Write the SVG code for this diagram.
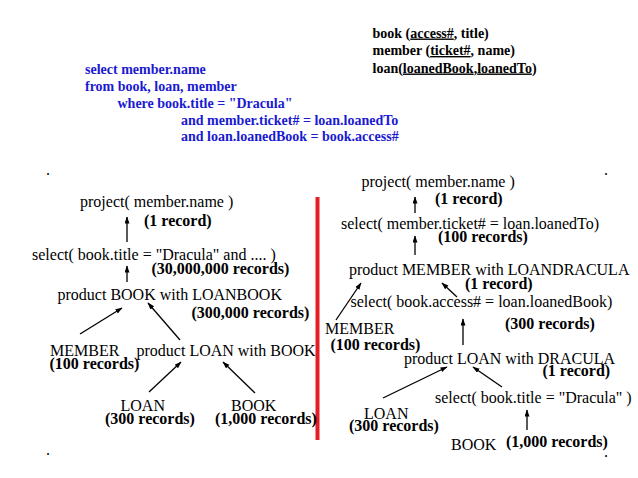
<svg xmlns="http://www.w3.org/2000/svg" width="638" height="478" viewBox="0 0 638 478">
<defs>
<style>
text{font-family:"Liberation Serif","Times New Roman",serif;fill:#000}
.sch{font-size:14px;font-weight:bold}
.q{font-size:14px;font-weight:bold;fill:#1a1ad2}
.op{font-size:16px}
.rc{font-size:16px;font-weight:bold}
.u{text-decoration:underline}
.cn{stroke:#000;stroke-width:1.3;fill:none;marker-end:url(#ah)}
</style>
<marker id="ah" markerUnits="userSpaceOnUse" markerWidth="8" markerHeight="6" refX="6.5" refY="2.5" orient="auto">
<path d="M0,0 L7,2.5 L0,5 z" fill="#000"/>
</marker>
</defs>
<rect width="638" height="478" fill="#fff"/>
<g id="schema">
<text class="sch" x="372.5" y="37.5">book (<tspan class="u">access#</tspan>, title)</text>
<text class="sch" x="372.5" y="55">member (<tspan class="u">ticket#</tspan>, name)</text>
<text class="sch" x="372.5" y="72.5">loan(<tspan class="u">loanedBook</tspan>,<tspan class="u">loanedTo</tspan>)</text>
</g>
<g id="query">
<text class="q" x="85" y="73.5">select member.name</text>
<text class="q" x="85" y="90.5">from book, loan, member</text>
<text class="q" x="117.5" y="107.5">where book.title = "Dracula"</text>
<text class="q" x="181" y="124.5">and member.ticket# = loan.loanedTo</text>
<text class="q" x="181" y="141">and loan.loanedBook = book.access#</text>
</g>
<g id="dots">
<text class="op" x="46" y="175">.</text>
<text class="op" x="46" y="455">.</text>
<text class="op" x="604" y="175">.</text>
<text class="op" x="604" y="457">.</text>
</g>
<rect id="divider" x="315.5" y="197" width="4" height="243" fill="#e41c24"/>
<g id="L-project"><text class="op" x="80" y="207">project( member.name )</text><text class="rc" x="144" y="226">(1 record)</text></g>
<g id="L-select"><text class="op" x="32" y="260">select( book.title = "Dracula" and .... )</text><text class="rc" x="151.5" y="273.5">(30,000,000 records)</text></g>
<g id="L-product1"><text class="op" x="57.5" y="300">product BOOK with LOANBOOK</text><text class="rc" x="191.5" y="317.5">(300,000 records)</text></g>
<g id="L-member"><text class="op" x="50" y="356">MEMBER</text><text class="rc" x="49.5" y="368.5">(100 records)</text></g>
<g id="L-product2"><text class="op" x="136.5" y="356">product LOAN with BOOK</text></g>
<g id="L-loan"><text class="op" x="120.5" y="411">LOAN</text><text class="rc" x="105" y="423.5">(300 records)</text></g>
<g id="L-book"><text class="op" x="231" y="411">BOOK</text><text class="rc" x="215" y="423.5">(1,000 records)</text></g>
<g id="R-project"><text class="op" x="361.5" y="187">project( member.name )</text><text class="rc" x="435" y="203.5">(1 record)</text></g>
<g id="R-select1"><text class="op" x="341" y="228.5">select( member.ticket# = loan.loanedTo)</text><text class="rc" x="438" y="242">(100 records)</text></g>
<g id="R-product1"><text class="op" x="349" y="275">product MEMBER with LOANDRACULA</text><text class="rc" x="465" y="288.5">(1 record)</text></g>
<g id="R-select2"><text class="op" x="350.5" y="307">select( book.access# = loan.loanedBook)</text><text class="rc" x="505" y="328.5">(300 records)</text></g>
<g id="R-member"><text class="op" x="325" y="334">MEMBER</text><text class="rc" x="330.5" y="349.5">(100 records)</text></g>
<g id="R-product2"><text class="op" x="404" y="363.5">product LOAN with DRACULA</text><text class="rc" x="542.5" y="376">(1 record)</text></g>
<g id="R-select3"><text class="op" x="435" y="403">select( book.title = "Dracula" )</text></g>
<g id="R-loan"><text class="op" x="364" y="419">LOAN</text><text class="rc" x="349" y="431">(300 records)</text></g>
<g id="R-book"><text class="op" x="451" y="450">BOOK</text><text class="rc" x="506" y="447">(1,000 records)</text></g>
<g id="connectors">
<line class="cn" x1="127" y1="242" x2="127" y2="217"/>
<line class="cn" x1="127" y1="282" x2="127" y2="266"/>
<line class="cn" x1="80" y1="334" x2="122" y2="308"/>
<line class="cn" x1="180" y1="340" x2="148" y2="303"/>
<line class="cn" x1="149" y1="392" x2="181" y2="362"/>
<line class="cn" x1="255" y1="393" x2="223" y2="362"/>
<line class="cn" x1="415" y1="213" x2="415" y2="197"/>
<line class="cn" x1="415" y1="255" x2="415" y2="236"/>
<line class="cn" x1="457" y1="297" x2="442" y2="283"/>
<line class="cn" x1="336" y1="320" x2="361" y2="283"/>
<line class="cn" x1="463" y1="345" x2="463" y2="319"/>
<line class="cn" x1="383" y1="398" x2="447" y2="367"/>
<line class="cn" x1="502" y1="387" x2="473" y2="367"/>
<line class="cn" x1="527" y1="430" x2="527" y2="410"/>
</g>
</svg>
